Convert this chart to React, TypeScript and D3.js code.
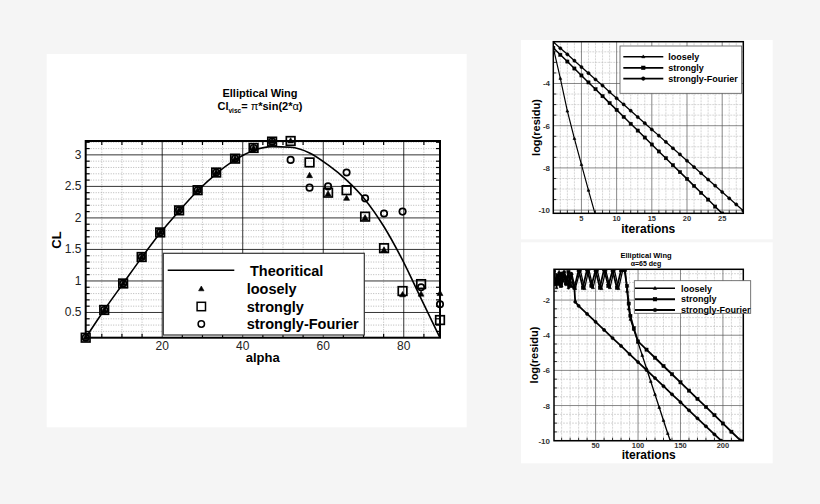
import * as d3 from 'd3';

const FONT = '"Liberation Sans", Arial, Helvetica, sans-serif';

// ---- main chart: CL vs alpha ----
const alphaDeg = [1, 5.6, 10.3, 14.9, 19.5, 24.2, 28.8, 33.4, 38.1, 42.7, 47.3, 51.9, 56.6, 61.2, 65.8, 70.4, 75.1, 79.7, 84.3, 89];
const clLoosely = [0.1, 0.54, 0.96, 1.38, 1.77, 2.12, 2.44, 2.72, 2.94, 3.11, 3.21, 3.22, 2.67, 2.38, 2.31, 2.0, 1.49, 0.78, 0.79, 0.8];
const clStrongly = [0.1, 0.54, 0.96, 1.38, 1.77, 2.12, 2.44, 2.72, 2.94, 3.11, 3.21, 3.22, 2.88, 2.4, 2.44, 2.02, 1.52, 0.84, 0.95, 0.38];
const clFourier = [0.1, 0.54, 0.96, 1.38, 1.77, 2.12, 2.44, 2.72, 2.94, 3.11, 3.21, 2.92, 2.48, 2.5, 2.72, 2.31, 2.07, 2.1, 0.9, 0.63];
const theoryAlpha = [1, 5.6, 10.3, 14.9, 19.5, 24.2, 28.8, 33.4, 38.1, 42.7, 47.3, 51.9, 56.6, 61.2, 65.8, 70.4, 75.1, 79.7, 84.3, 89];
const theoryCL = [0.1, 0.54, 0.96, 1.37, 1.76, 2.11, 2.43, 2.7, 2.92, 3.07, 3.13, 3.12, 3.03, 2.84, 2.6, 2.29, 1.86, 1.33, 0.72, 0.1];
const mainXTicks = [20, 40, 60, 80];
const mainYTicks = [0.5, 1, 1.5, 2, 2.5, 3];
const legendNames = ['loosely', 'strongly', 'strongly-Fourier'];

// ---- top right: convergence ----
const trLooselyIt = [1, 2, 3, 4, 5, 6, 7];
const trLooselyRes = [-2.31, -3.76, -5.31, -6.61, -7.84, -9.06, -10.25];
const trStronglyIt = d3.range(1, 26);
const trStronglyRes = [-2.31, -2.64, -2.96, -3.29, -3.62, -3.95, -4.27, -4.6, -4.93, -5.25, -5.58, -5.91, -6.23, -6.56, -6.89, -7.22, -7.54, -7.87, -8.2, -8.52, -8.85, -9.18, -9.5, -9.83, -10.16];
const trFourierIt = d3.range(1, 29);
const trFourierRes = [-2.03, -2.33, -2.62, -2.92, -3.22, -3.51, -3.81, -4.1, -4.4, -4.7, -4.99, -5.29, -5.59, -5.88, -6.18, -6.47, -6.77, -7.07, -7.36, -7.66, -7.96, -8.25, -8.55, -8.84, -9.14, -9.44, -9.73, -10.03];
const trXTicks = [5, 10, 15, 20, 25];
const trYTicks = [-4, -6, -8, -10];

// ---- bottom right: convergence, alpha = 65 deg ----
const brLooselyIt = [1, 4, 7, 10, 14, 18, 22, 26, 32, 37, 42, 47, 52, 57, 62, 67, 72, 77, 82, 85, 87, 89, 91, 95, 100, 105, 110, 115, 120, 125, 130, 135, 138];
const brLooselyRes = [-0.5, -1.3, -0.4, -1.2, -0.6, -1.3, -0.5, -1.35, -0.3, -1.35, -0.25, -1.3, -0.3, -1.35, -0.3, -1.3, -0.25, -1.35, -0.3, -0.3, -1.5, -2.5, -3.1, -3.67, -4.41, -5.15, -5.89, -6.63, -7.37, -8.11, -8.85, -9.59, -10.0];
const brStronglyIt = [1, 3, 6, 9, 12, 15, 18, 21, 25, 30, 35, 40, 45, 50, 55, 60, 65, 70, 75, 80, 84, 87, 89, 91, 95, 100, 110, 120, 130, 140, 150, 160, 170, 180, 190, 200, 210, 221];
const brStronglyRes = [-0.3, -1.1, -0.6, -1.2, -0.5, -1.0, -0.4, -1.2, -1.3, -0.3, -1.3, -0.25, -1.2, -0.3, -1.3, -0.25, -1.2, -0.3, -1.3, -0.3, -0.3, -1.2, -2.2, -2.9, -3.6, -4.35, -4.82, -5.28, -5.75, -6.22, -6.68, -7.15, -7.62, -8.08, -8.55, -9.02, -9.49, -10.0];
const brFourierIt = [1, 3, 5, 7, 9, 11, 13, 15, 17, 19, 21, 23, 25, 26, 30, 40, 50, 60, 70, 80, 90, 100, 110, 120, 130, 140, 150, 160, 170, 180, 190, 198];
const brFourierRes = [-0.4, -1.0, -0.6, -1.1, -0.5, -0.9, -0.4, -1.1, -0.7, -1.2, -0.5, -1.0, -1.3, -2.1, -2.33, -2.79, -3.24, -3.7, -4.16, -4.61, -5.07, -5.53, -5.98, -6.44, -6.9, -7.36, -7.81, -8.27, -8.73, -9.18, -9.64, -10.0];
const brXTicks = [50, 100, 150, 200];
const brYTicks = [-2, -4, -6, -8, -10];

type Kind = 'tri' | 'sq' | 'circ';

function Marker({ kind, x, y, s, fill, sw }: { kind: Kind; x: number; y: number; s: number; fill: string; sw: number }) {
  if (kind === 'tri') {
    return <path d={`M${x},${y - s}L${x + s * 0.9},${y + s * 0.6}L${x - s * 0.9},${y + s * 0.6}Z`} fill="#000" stroke="#000" strokeWidth={0.6} />;
  }
  if (kind === 'sq') {
    return <rect x={x - s} y={y - s} width={s * 2} height={s * 2} fill={fill} stroke="#000" strokeWidth={sw} />;
  }
  return <circle cx={x} cy={y} r={s} fill={fill} stroke="#000" strokeWidth={sw} />;
}

function MainChart() {
  const x = d3.scaleLinear().domain([1, 89]).range([85.7, 440]);
  const y = d3.scaleLinear().domain([0.1, 3.22]).range([337.7, 141]);
  const [x0, x1] = x.range();
  const [y0, y1] = y.range();
  const minorX = d3.range(5, 89, 5).filter((v) => v % 20 !== 0);
  const minorY = d3.range(2, 33).filter((i) => i % 5 !== 0).map((i) => i / 10);
  const line = d3.line<number>().x((d, i) => x(theoryAlpha[i])).y((d) => y(d)).curve(d3.curveMonotoneX);
  const series: { kind: Kind; vals: number[] }[] = [
    { kind: 'sq', vals: clStrongly },
    { kind: 'circ', vals: clFourier },
    { kind: 'tri', vals: clLoosely },
  ];
  return (
    <g fontFamily={FONT}>
      <rect x={46.7} y={54} width={420} height={373.3} fill="#fff" />
      <text x={260} y={97} textAnchor="middle" fontSize={11} fontWeight="bold">Elliptical Wing</text>
      <text x={260} y={110} textAnchor="middle" fontSize={11} fontWeight="bold">
        Cl<tspan fontSize={6.5} dy={3}>visc</tspan>
        <tspan dy={-3}>= </tspan>
        <tspan fontWeight="normal">π</tspan>*sin(2*<tspan fontWeight="normal">α</tspan>)
      </text>
      {minorX.map((v) => (
        <line key={'mx' + v} x1={x(v)} x2={x(v)} y1={y0} y2={y1} stroke="#999" strokeWidth={0.7} strokeDasharray="1,1.5" />
      ))}
      {minorY.map((v) => (
        <line key={'my' + v} x1={x0} x2={x1} y1={y(v)} y2={y(v)} stroke="#999" strokeWidth={0.7} strokeDasharray="1,1.5" />
      ))}
      {mainXTicks.map((v) => (
        <line key={'gx' + v} x1={x(v)} x2={x(v)} y1={y0} y2={y1} stroke="#000" strokeWidth={0.8} />
      ))}
      {mainYTicks.map((v) => (
        <line key={'gy' + v} x1={x0} x2={x1} y1={y(v)} y2={y(v)} stroke="#000" strokeWidth={0.8} />
      ))}
      {minorY.map((v) => (
        <g key={'ty' + v}>
          <line x1={x0} x2={x0 + 4} y1={y(v)} y2={y(v)} stroke="#000" strokeWidth={1.2} />
          <line x1={x1} x2={x1 - 4} y1={y(v)} y2={y(v)} stroke="#000" strokeWidth={1.2} />
        </g>
      ))}
      {minorX.map((v) => (
        <g key={'tx' + v}>
          <line x1={x(v)} x2={x(v)} y1={y0} y2={y0 - 4} stroke="#000" strokeWidth={1.2} />
          <line x1={x(v)} x2={x(v)} y1={y1} y2={y1 + 4} stroke="#000" strokeWidth={1.2} />
        </g>
      ))}
      {mainXTicks.map((v) => (
        <text key={'lx' + v} x={x(v)} y={350} textAnchor="middle" fontSize={12} fill="#222">{v}</text>
      ))}
      {mainYTicks.map((v) => (
        <text key={'ly' + v} x={81.5} y={y(v) + 4} textAnchor="end" fontSize={12} fill="#222">{v}</text>
      ))}
      <path d={line(theoryCL) || ''} fill="none" stroke="#000" strokeWidth={1.6} />
      {series.map((s) =>
        s.vals.map((v, i) => (
          <Marker key={s.kind + i} kind={s.kind} x={x(alphaDeg[i])} y={y(v)} s={s.kind === 'sq' ? 4.3 : s.kind === 'circ' ? 3.2 : 3.3} fill="none" sw={1.7} />
        ))
      )}
      <rect x={x0} y={y1} width={x1 - x0} height={y0 - y1} fill="none" stroke="#000" strokeWidth={2} />
      <text x={262.7} y={362} textAnchor="middle" fontSize={13} fontWeight="bold">alpha</text>
      <text transform="translate(61,240) rotate(-90)" textAnchor="middle" fontSize={13} fontWeight="bold">CL</text>
      <rect x={163.3} y={253.3} width={201} height={81.7} fill="#fff" stroke="#333" strokeWidth={1.2} />
      <line x1={167.7} x2={234.3} y1={270.3} y2={270.3} stroke="#000" strokeWidth={1.6} />
      <text x={250} y={276} fontSize={14.5} fontWeight="bold">Theoritical</text>
      {(['tri', 'sq', 'circ'] as Kind[]).map((k, i) => (
        <g key={'lg' + k}>
          <Marker kind={k} x={201.3} y={289 + i * 17.5} s={k === 'sq' ? 4.2 : k === 'circ' ? 3.2 : 3} fill="none" sw={1.5} />
          <text x={246.7} y={294 + i * 17.5} fontSize={14.5} fontWeight="bold">{legendNames[i]}</text>
        </g>
      ))}
    </g>
  );
}

interface Series {
  it: number[];
  res: number[];
  kind: Kind;
  width: number;
}

interface PanelProps {
  box: [number, number, number, number];
  xr: [number, number];
  yr: [number, number];
  xd: [number, number];
  yd: [number, number];
  xTicks: number[];
  yTicks: number[];
  minorX: number[];
  minorY: number[];
  series: Series[];
  legend: { x: number; y: number; w: number; h: number; rows: number[]; lx0: number; lx1: number; tx: number };
  xLabelY: number;
  tickLabelY: number;
  yLabelX: number;
  title?: boolean;
  clipId: string;
}

function ResidualPanel(p: PanelProps) {
  const x = d3.scaleLinear().domain(p.xd).range(p.xr);
  const y = d3.scaleLinear().domain(p.yd).range(p.yr);
  const [x0, x1] = p.xr;
  const [y0, y1] = p.yr;
  const [bx, by, bw, bh] = p.box;
  return (
    <g fontFamily={FONT}>
      <rect x={bx} y={by} width={bw} height={bh} fill="#fff" />
      <defs>
        <clipPath id={p.clipId}>
          <rect x={x0} y={y1} width={x1 - x0} height={y0 - y1} />
        </clipPath>
      </defs>
      {p.title && (
        <g fontWeight="bold" textAnchor="middle">
          <text x={646} y={257.5} fontSize={7.5}>Elliptical Wing</text>
          <text x={646} y={265.5} fontSize={7}>α=65 deg</text>
        </g>
      )}
      {p.minorX.map((v) => (
        <line key={'mx' + v} x1={x(v)} x2={x(v)} y1={y0} y2={y1} stroke="#bbb" strokeWidth={0.6} strokeDasharray="2,1" />
      ))}
      {p.minorY.map((v) => (
        <line key={'my' + v} x1={x0} x2={x1} y1={y(v)} y2={y(v)} stroke="#bbb" strokeWidth={0.6} strokeDasharray="2,1" />
      ))}
      {p.xTicks.map((v) => (
        <line key={'gx' + v} x1={x(v)} x2={x(v)} y1={y0} y2={y1} stroke="#555" strokeWidth={0.7} />
      ))}
      {p.yTicks.map((v) => (
        <line key={'gy' + v} x1={x0} x2={x1} y1={y(v)} y2={y(v)} stroke="#555" strokeWidth={0.7} />
      ))}
      {p.minorX.map((v) => (
        <line key={'tx' + v} x1={x(v)} x2={x(v)} y1={y0} y2={y0 - 3} stroke="#000" strokeWidth={0.8} />
      ))}
      {p.minorY.map((v) => (
        <line key={'ty' + v} x1={x0} x2={x0 + 3} y1={y(v)} y2={y(v)} stroke="#000" strokeWidth={0.8} />
      ))}
      {p.xTicks.map((v) => (
        <text key={'lx' + v} x={x(v)} y={p.tickLabelY} textAnchor="middle" fontSize={7.5} fontWeight="bold" fill="#333">{v}</text>
      ))}
      {p.yTicks.map((v) => (
        <text key={'ly' + v} x={550} y={y(v) + 3} textAnchor="end" fontSize={8} fontWeight="bold" fill="#333">{v}</text>
      ))}
      <g clipPath={`url(#${p.clipId})`}>
        {p.series.map((s, si) => {
          const line = d3.line<number>().x((d, i) => x(s.it[i])).y((d) => y(d));
          return (
            <g key={'s' + si}>
              <path d={line(s.res) || ''} fill="none" stroke="#000" strokeWidth={s.width} />
              {s.res.map((v, i) => (
                <Marker key={i} kind={s.kind} x={x(s.it[i])} y={y(v)} s={1.6} fill="#000" sw={0.5} />
              ))}
            </g>
          );
        })}
      </g>
      <rect x={x0} y={y1} width={x1 - x0} height={y0 - y1} fill="none" stroke="#000" strokeWidth={1.5} />
      <rect x={p.legend.x} y={p.legend.y} width={p.legend.w} height={p.legend.h} fill="#fff" stroke="#555" strokeWidth={0.8} />
      {p.series.map((s, i) => (
        <g key={'lg' + i}>
          <line x1={p.legend.lx0} x2={p.legend.lx1} y1={p.legend.rows[i]} y2={p.legend.rows[i]} stroke="#000" strokeWidth={s.width + 0.3} />
          <Marker kind={s.kind} x={(p.legend.lx0 + p.legend.lx1) / 2} y={p.legend.rows[i]} s={1.8} fill="#000" sw={0.5} />
          <text x={p.legend.tx} y={p.legend.rows[i] + 3.2} fontSize={9} fontWeight="bold">{legendNames[i]}</text>
        </g>
      ))}
      <text x={(x0 + x1) / 2} y={p.xLabelY} textAnchor="middle" fontSize={12} fontWeight="bold">iterations</text>
      <text transform={`translate(${p.yLabelX},${(y0 + y1) / 2}) rotate(-90)`} textAnchor="middle" fontSize={11} fontWeight="bold">log(residu)</text>
    </g>
  );
}

export default function App() {
  return (
    <svg width={820} height={504} style={{ position: 'absolute', left: 0, top: 0 }}>
      <rect width={820} height={504} fill="#f5f5f5" />
      <MainChart />
      <ResidualPanel
        clipId="clipTop"
        box={[521, 40, 251.7, 199.3]}
        xr={[553.3, 743.3]}
        yr={[213.3, 41.7]}
        xd={[1, 28]}
        yd={[-10.15, -2.02]}
        xTicks={trXTicks}
        yTicks={trYTicks}
        minorX={d3.range(2, 28).filter((v) => v % 5 !== 0)}
        minorY={d3.range(-19, -4).filter((i) => i % 4 !== 0).map((i) => i / 2)}
        series={[
          { it: trLooselyIt, res: trLooselyRes, kind: 'tri', width: 1.2 },
          { it: trStronglyIt, res: trStronglyRes, kind: 'sq', width: 1.5 },
          { it: trFourierIt, res: trFourierRes, kind: 'circ', width: 1.3 },
        ]}
        legend={{ x: 620, y: 46, w: 121.7, h: 47.3, rows: [56.7, 67.8, 78.6], lx0: 623.3, lx1: 663.3, tx: 668.3 }}
        xLabelY={233}
        tickLabelY={221}
        yLabelX={540}
      />
      <ResidualPanel
        clipId="clipBottom"
        title
        box={[521, 242.3, 251.7, 221]}
        xr={[554, 743.3]}
        yr={[440.7, 269.3]}
        xd={[1, 224]}
        yd={[-10, -0.25]}
        xTicks={brXTicks}
        yTicks={brYTicks}
        minorX={d3.range(10, 224, 10).filter((v) => v % 50 !== 0)}
        minorY={d3.range(-19, 0).filter((i) => i % 4 !== 0).map((i) => i / 2)}
        series={[
          { it: brLooselyIt, res: brLooselyRes, kind: 'tri', width: 1.3 },
          { it: brStronglyIt, res: brStronglyRes, kind: 'sq', width: 1.8 },
          { it: brFourierIt, res: brFourierRes, kind: 'circ', width: 1.8 },
        ]}
        legend={{ x: 634.3, y: 280.7, w: 116.4, h: 32.6, rows: [288.3, 299.2, 310], lx0: 635, lx1: 675, tx: 681 }}
        xLabelY={459}
        tickLabelY={447.5}
        yLabelX={538}
      />
    </svg>
  );
}
